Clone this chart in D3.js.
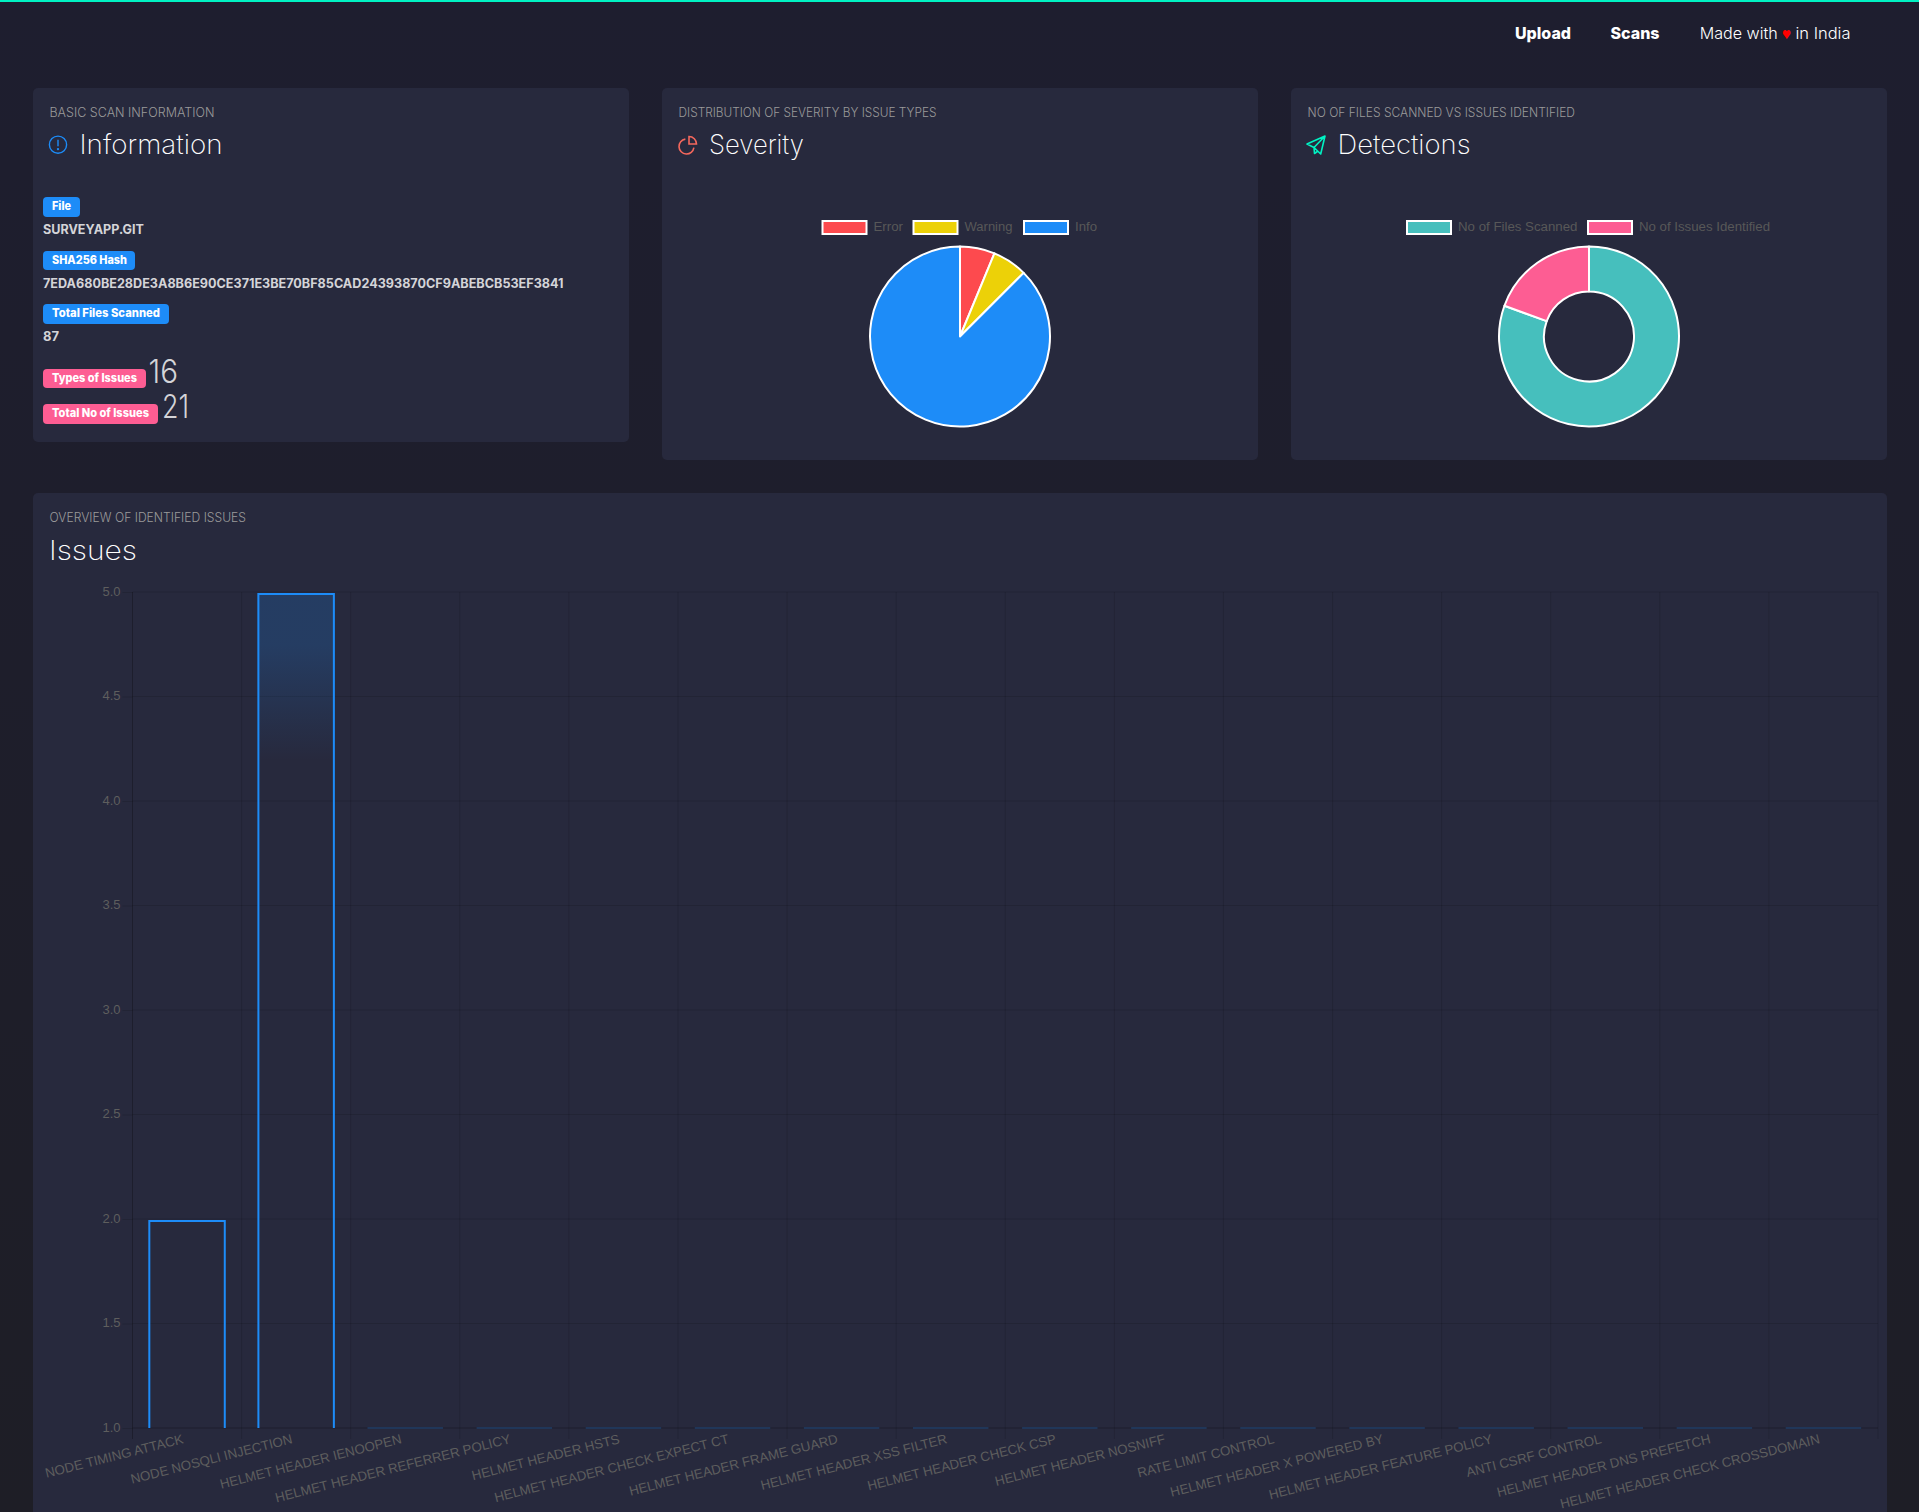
<!DOCTYPE html>
<html>
<head>
<meta charset="utf-8">
<title>Scan report</title>
<script src="https://cdn.jsdelivr.net/npm/d3@7"></script>
<style>
    html, body { margin: 0; padding: 0; background: #1e1e2c; overflow: hidden; }
    svg { display: block; }
    text { font-family: Inter, "Noto Sans", sans-serif; }
    .chartfont text, text.chartfont { font-family: "Liberation Sans", Arial, sans-serif; }
</style>
</head>
<body>
<svg id="page" width="1919" height="1512"></svg>
<script>
// data
const severityLabels = ["Error", "Warning", "Info"];
const severityValues = [1, 1, 14];
const severityColors = ["#fd4a4e", "#ecd108", "#1d8cf8"];

const detectionLabels = ["No of Files Scanned", "No of Issues Identified"];
const detectionValues = [87, 21];
const detectionColors = ["#46bfbd", "#fd5d93"];

const issueNames = [
    "NODE TIMING ATTACK", "NODE NOSQLI INJECTION", "HELMET HEADER IENOOPEN",
    "HELMET HEADER REFERRER POLICY", "HELMET HEADER HSTS", "HELMET HEADER CHECK EXPECT CT",
    "HELMET HEADER FRAME GUARD", "HELMET HEADER XSS FILTER", "HELMET HEADER CHECK CSP",
    "HELMET HEADER NOSNIFF", "RATE LIMIT CONTROL", "HELMET HEADER X POWERED BY",
    "HELMET HEADER FEATURE POLICY", "ANTI CSRF CONTROL", "HELMET HEADER DNS PREFETCH",
    "HELMET HEADER CHECK CROSSDOMAIN"
];
const issueCounts = [2, 5, 1, 1, 1, 1, 1, 1, 1, 1, 1, 1, 1, 1, 1, 1];
const yTicks = [1, 1.5, 2, 2.5, 3, 3.5, 4, 4.5, 5];

const fileName = "SURVEYAPP.GIT";
const fileHash = "7EDA680BE28DE3A8B6E90CE371E3BE70BF85CAD24393870CF9ABEBCB53EF3841";
const filesScanned = "87";
const issueTypes = "16";
const issueTotal = "21";

const blue = "#1d8cf8", pink = "#fd5d93", teal = "#00f2c3";
const cardColor = "#27293d", chartText = "#5e5e5e", gridColor = "rgba(0,0,0,0.12)";

const svg = d3.select("#page");
const defs = svg.append("defs");

const bg = defs.append("linearGradient").attr("id", "pageBg").attr("x1", 0).attr("x2", 0).attr("y1", 0).attr("y2", 1);
bg.append("stop").attr("offset", 0).attr("stop-color", "#1e1e2f");
bg.append("stop").attr("offset", 1).attr("stop-color", "#1e1e26");
svg.append("rect").attr("width", 1919).attr("height", 1512).attr("fill", "url(#pageBg)");
svg.append("rect").attr("width", 1919).attr("height", 2).attr("fill", teal);

// text helper, w = the width the string takes in the reference
function put(parent, str, x, y, size, weight, color, w) {
    let t = parent.append("text")
        .attr("x", x).attr("y", y)
        .attr("font-size", size).attr("font-weight", weight)
        .attr("fill", color).text(str);
    if (w) t.attr("textLength", w).attr("lengthAdjust", "spacingAndGlyphs");
    return t;
}

function card(x, y, w, h) {
    svg.append("rect").attr("x", x).attr("y", y).attr("width", w).attr("height", h)
        .attr("rx", 5).attr("fill", cardColor);
}

// nav
put(svg, "Upload", 1515, 39, 16, 800, "#fff", 56);
put(svg, "Scans", 1610.5, 39, 16, 800, "#fff", 49);
put(svg, "Made with", 1699.7, 39, 16, 300, "#fff", 78);
put(svg, "♥", 1782, 38.5, 12, 400, "#f00", 9).attr("font-family", "DejaVu Sans");
put(svg, "in India", 1795.5, 39, 16, 300, "#fff", 55);

// cards
card(33, 88, 596, 354);
card(662, 88, 596, 372);
card(1291, 88, 596, 372);
card(33, 493, 1854, 1030);

// card headers
put(svg, "BASIC SCAN INFORMATION", 49.5, 117, 12.5, 300, "#9a9a9a", 165);
put(svg, "Information", 79.5, 154, 27, 200, "#fff", 143);
put(svg, "DISTRIBUTION OF SEVERITY BY ISSUE TYPES", 678.5, 117, 12.5, 300, "#9a9a9a", 258);
put(svg, "Severity", 709, 154, 27, 200, "#fff", 95);
put(svg, "NO OF FILES SCANNED VS ISSUES IDENTIFIED", 1307.5, 117, 12.5, 300, "#9a9a9a", 267.5);
put(svg, "Detections", 1337.5, 154, 27, 200, "#fff", 133);
put(svg, "OVERVIEW OF IDENTIFIED ISSUES", 49.5, 522, 12.5, 300, "#9a9a9a", 196.5);
put(svg, "Issues", 49, 560, 27, 200, "#fff", 88);

// header icons
const infoIcon = svg.append("g").attr("transform", "translate(58,144.7)")
    .attr("fill", "none").attr("stroke", blue).attr("stroke-width", 1.4);
infoIcon.append("circle").attr("r", 8.6);
infoIcon.append("line").attr("y1", -5).attr("y2", 1.5);
infoIcon.append("circle").attr("cy", 4.4).attr("r", 0.5);

const pieIcon = svg.append("g").attr("fill", "none").attr("stroke", "#f4675c").attr("stroke-width", 1.6);
pieIcon.append("path").attr("transform", "translate(686.5,146.5)")
    .attr("d", d3.arc()({ innerRadius: 7.5, outerRadius: 7.5, startAngle: Math.PI * 0.55, endAngle: Math.PI * 1.95 }));
pieIcon.append("path").attr("transform", "translate(689,144)")
    .attr("d", d3.arc()({ innerRadius: 0, outerRadius: 7.5, startAngle: 0, endAngle: Math.PI / 2 }));

svg.append("path").attr("transform", "translate(1307,136)")
    .attr("fill", "none").attr("stroke", teal).attr("stroke-width", 1.6).attr("stroke-linejoin", "round")
    .attr("d", "M0,8 L18,0 L13.7,18 L7,11.5 Z M7,11.5 L18,0 M7,11.5 L7.5,17.5 L11,15");

// info card
function badge(str, x, y, w, h, color, textW) {
    svg.append("rect").attr("x", x).attr("y", y).attr("width", w).attr("height", h).attr("rx", 4).attr("fill", color);
    put(svg, str, x + 9, y + 13, 11.5, 800, "#fff", textW);
}
const valueColor = "#d4d4d8";
badge("File", 43, 197, 37, 20, blue, 19);
put(svg, fileName, 43, 234, 13, 700, valueColor, 101);
badge("SHA256 Hash", 43, 251, 92, 19, blue, 75);
put(svg, fileHash, 43, 288, 13, 700, valueColor, 520.5);
badge("Total Files Scanned", 43, 304, 126, 20, blue, 108);
put(svg, filesScanned, 43, 341, 13, 700, valueColor, 16);
badge("Types of Issues", 43, 369, 103, 19, pink, 85);
put(svg, issueTypes, 148.5, 383, 32, 300, valueColor, 29.5);
badge("Total No of Issues", 43, 404, 115, 20, pink, 97);
put(svg, issueTotal, 162, 418, 32, 300, valueColor, 27);

// legend boxes sit above the round charts
function legend(labels, colors, boxX, textW) {
    let g = svg.append("g").attr("class", "chartfont");
    labels.forEach((d, i) => {
        g.append("rect").attr("x", boxX[i] + 1).attr("y", 221).attr("width", 44).attr("height", 13)
            .attr("fill", colors[i]).attr("stroke", "#fff").attr("stroke-width", 2);
        put(g, d, boxX[i] + 52, 231, 12, 400, "#585858", textW[i]);
    });
}

function round(values, colors, cx, cy, r, inner) {
    let pie = d3.pie().sort(null)(values);
    let arc = d3.arc().innerRadius(inner).outerRadius(r);
    svg.append("g").attr("transform", `translate(${cx},${cy})`)
        .selectAll("path").data(pie).join("path")
        .attr("d", arc)
        .attr("fill", (d, i) => colors[i])
        .attr("stroke", "#fff").attr("stroke-width", 2).attr("stroke-linejoin", "round");
}

legend(severityLabels, severityColors, [821.5, 912.5, 1023], [29.5, 48, 22]);
round(severityValues, severityColors, 960, 336.5, 90, 0);

legend(detectionLabels, detectionColors, [1406, 1587], [119.5, 131]);
round(detectionValues, detectionColors, 1589, 336.5, 90, 45);

// issues bar chart
const plot = { left: 132.5, right: 1878, top: 592, bottom: 1428 };

let xScale = d3.scaleBand().domain(issueNames).range([plot.left, plot.right])
    .paddingInner(0.29).paddingOuter(0.145);
let xGrid = d3.scaleLinear().domain([0, issueNames.length]).range([plot.left, plot.right]);
let yScale = d3.scaleLinear().domain([1, 5]).range([plot.bottom, plot.top]);

const barFill = defs.append("linearGradient").attr("id", "barFill")
    .attr("gradientUnits", "userSpaceOnUse").attr("x1", 0).attr("x2", 0).attr("y1", 645).attr("y2", 760);
barFill.append("stop").attr("offset", 0).attr("stop-color", blue).attr("stop-opacity", 0.2);
barFill.append("stop").attr("offset", 1).attr("stop-color", blue).attr("stop-opacity", 0);

const chart = svg.append("g").attr("class", "chartfont");

// grid
chart.selectAll(".vgrid").data(d3.range(issueNames.length + 1)).join("line")
    .attr("class", "vgrid")
    .attr("x1", d => xGrid(d)).attr("x2", d => xGrid(d))
    .attr("y1", plot.top).attr("y2", plot.bottom + 11)
    .attr("stroke", d => d === 0 ? "rgba(0,0,0,0.25)" : gridColor);
chart.selectAll(".hgrid").data(yTicks).join("line")
    .attr("class", "hgrid")
    .attr("x1", plot.left).attr("x2", plot.right)
    .attr("y1", d => yScale(d)).attr("y2", d => yScale(d))
    .attr("stroke", d => d === 1 ? "rgba(0,0,0,0.25)" : gridColor);

// bars, open at the base line; the stroke stays inside the bar's box
let bars = issueNames.map((d, i) => ({ name: d, value: issueCounts[i] }));
chart.selectAll(".bar").data(bars).join("rect")
    .attr("class", "bar")
    .attr("x", d => xScale(d.name)).attr("width", xScale.bandwidth())
    .attr("y", d => yScale(d.value) + 1).attr("height", d => plot.bottom - yScale(d.value))
    .attr("fill", "url(#barFill)");
chart.selectAll(".barline").data(bars).join("path")
    .attr("class", "barline")
    .attr("fill", "none")
    .attr("stroke", blue)
    .attr("stroke-width", d => d.value === 1 ? 1.5 : 2)
    .attr("stroke-opacity", d => d.value === 1 ? 0.25 : 1)
    .attr("d", d => {
        let p = d3.path(), l = xScale(d.name) + 1, r = xScale(d.name) + xScale.bandwidth() - 1;
        let top = d.value === 1 ? plot.bottom : yScale(d.value) + 2;
        p.moveTo(l, plot.bottom);
        p.lineTo(l, top);
        p.lineTo(r, top);
        p.lineTo(r, plot.bottom);
        return p.toString();
    });

// axes
let yAxis = chart.append("g").attr("transform", `translate(${plot.left},0)`)
    .call(d3.axisLeft(yScale).tickValues(yTicks).tickFormat(d3.format(".1f")).tickSize(10).tickPadding(2));
yAxis.select(".domain").remove();
yAxis.selectAll("line").attr("stroke", gridColor);
yAxis.selectAll("text").attr("fill", chartText).attr("font-size", 13).attr("dy", "0.24em");

let xAxis = chart.append("g").attr("transform", `translate(0,${plot.bottom})`)
    .call(d3.axisBottom(xScale).tickSize(0));
xAxis.select(".domain").remove();
xAxis.selectAll("text")
    .attr("y", 0).attr("dy", 0)
    .attr("text-anchor", "end")
    .attr("transform", "translate(-3,15) rotate(-14.2)")
    .attr("fill", chartText).attr("font-size", 13.3);
</script>
</body>
</html>
